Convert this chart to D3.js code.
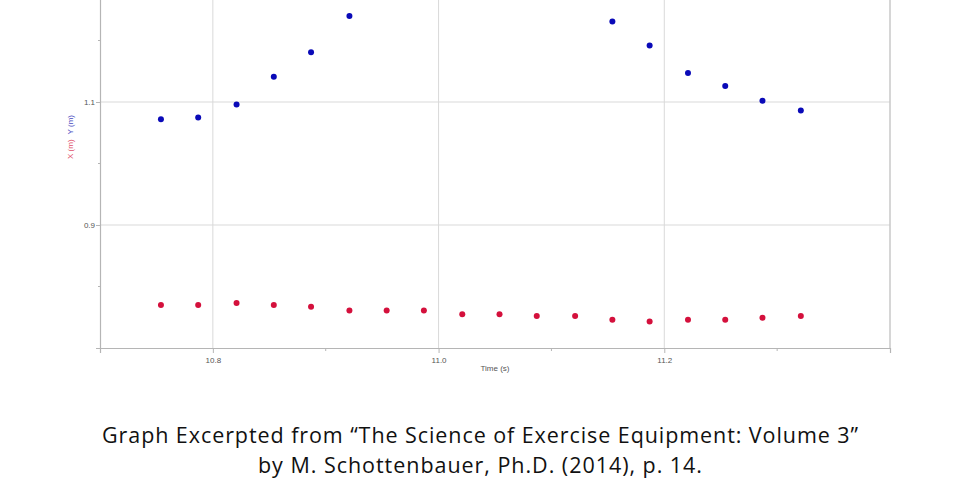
<!DOCTYPE html>
<html>
<head>
<meta charset="utf-8">
<script src="https://cdn.jsdelivr.net/npm/d3@7"></script>
<style>
  body { margin: 0; background: #fff; }
  svg { display: block; }
</style>
</head>
<body>
<script>
// Time samples (s), 30 Hz
var times = [10.754, 10.787, 10.821, 10.854, 10.887, 10.921, 10.954, 10.987, 11.021,
             11.054, 11.087, 11.121, 11.154, 11.187, 11.221, 11.254, 11.287, 11.321];
// Y (m) - values above the visible area are left out
var yValues = [1.072, 1.075, 1.096, 1.141, 1.181, 1.240, null, null, null,
               null, null, null, 1.231, 1.192, 1.147, 1.126, 1.102, 1.086];
// X (m)
var xValues = [0.770, 0.770, 0.773, 0.770, 0.767, 0.761, 0.761, 0.761, 0.755,
               0.755, 0.752, 0.752, 0.746, 0.743, 0.746, 0.746, 0.749, 0.752];

var xMajor = [10.8, 11.0, 11.2];
var xMinor = [10.9, 11.1, 11.3];
var yMajor = [0.9, 1.1];
var yMinor = [0.8, 1.0, 1.2];

var captionLines = [
  "Graph Excerpted from \u201CThe Science of Exercise Equipment: Volume 3\u201D",
  "by M. Schottenbauer, Ph.D. (2014), p. 14."
];
var captionWidths = [756, 444];

var width = 960, height = 504;
var plotLeft = 100, plotRight = 890, plotBottom = 348, plotTop = -21;

var svg = d3.select("body").append("svg")
    .attr("width", width)
    .attr("height", height);

var x = d3.scaleLinear().domain([10.7, 11.4]).range([plotLeft, plotRight]);
var y = d3.scaleLinear().domain([0.7, 1.3]).range([plotBottom, plotTop]);

// grid lines
svg.append("g").selectAll("line").data(xMajor).join("line")
    .attr("x1", d => x(d)).attr("x2", d => x(d))
    .attr("y1", plotTop).attr("y2", plotBottom)
    .attr("stroke", "#d9d9d9").attr("stroke-width", 1);
svg.append("g").selectAll("line").data(yMajor).join("line")
    .attr("x1", plotLeft).attr("x2", plotRight)
    .attr("y1", d => y(d)).attr("y2", d => y(d))
    .attr("stroke", "#d9d9d9").attr("stroke-width", 1);

// right border
svg.append("line")
    .attr("x1", plotRight).attr("x2", plotRight).attr("y1", plotTop).attr("y2", plotBottom)
    .attr("stroke", "#c8c8c8").attr("stroke-width", 1.5);

// axes
var xAxis = svg.append("g")
    .attr("transform", "translate(0," + plotBottom + ")")
    .call(d3.axisBottom(x).tickValues(xMajor).tickFormat(d3.format(".1f")).tickSize(5).tickPadding(4));
var yAxis = svg.append("g")
    .attr("transform", "translate(" + plotLeft + ",0)")
    .call(d3.axisLeft(y).tickValues(yMajor).tickFormat(d3.format(".1f")).tickSize(4).tickPadding(1));

[xAxis, yAxis].forEach(function (g) {
  g.select(".domain").attr("stroke", "#b5b5b5").attr("stroke-width", 1.2);
  g.selectAll(".tick line").attr("stroke", "#b5b5b5");
  g.selectAll(".tick text")
      .attr("fill", "#555")
      .style("font-family", "Arial, 'Liberation Sans', sans-serif")
      .style("font-size", "8px");
});

// minor ticks
svg.append("g").selectAll("line").data(xMinor).join("line")
    .attr("x1", d => x(d)).attr("x2", d => x(d))
    .attr("y1", plotBottom).attr("y2", plotBottom + 3)
    .attr("stroke", "#b5b5b5");
svg.append("g").selectAll("line").data(yMinor).join("line")
    .attr("x1", plotLeft - 2).attr("x2", plotLeft)
    .attr("y1", d => y(d)).attr("y2", d => y(d))
    .attr("stroke", "#b5b5b5");

// axis titles
svg.append("text")
    .attr("x", 495).attr("y", 371)
    .attr("text-anchor", "middle")
    .attr("fill", "#555")
    .style("font-family", "Arial, 'Liberation Sans', sans-serif")
    .style("font-size", "8px")
    .text("Time (s)");

var yTitle = svg.append("text")
    .attr("transform", "translate(73,137) rotate(-90)")
    .attr("text-anchor", "middle")
    .style("font-family", "Arial, 'Liberation Sans', sans-serif")
    .style("font-size", "8px");
yTitle.append("tspan").attr("fill", "#e0506a").text("X (m)");
yTitle.append("tspan").attr("fill", "#4a4ac0").attr("dx", 5).text("Y (m)");

// points
var ptsX = times.map((t, i) => ({ t: t, v: xValues[i] }));
var ptsY = times.map((t, i) => ({ t: t, v: yValues[i] })).filter(d => d.v !== null);

svg.append("g").selectAll("circle").data(ptsX).join("circle")
    .attr("cx", d => x(d.t)).attr("cy", d => y(d.v))
    .attr("r", 3).attr("fill", "#d4103c");
svg.append("g").selectAll("circle").data(ptsY).join("circle")
    .attr("cx", d => x(d.t)).attr("cy", d => y(d.v))
    .attr("r", 3).attr("fill", "#0a0ab8");

// caption
svg.append("g").selectAll("text").data(captionLines).join("text")
    .attr("x", 480)
    .attr("y", (d, i) => 443 + i * 30)
    .attr("text-anchor", "middle")
    .attr("fill", "#111")
    .attr("textLength", (d, i) => captionWidths[i])
    .attr("lengthAdjust", "spacing")
    .style("font-family", "'Open Sans', Lato, sans-serif")
    .style("font-size", "21.5px")
    .text(d => d);
</script>
</body>
</html>
